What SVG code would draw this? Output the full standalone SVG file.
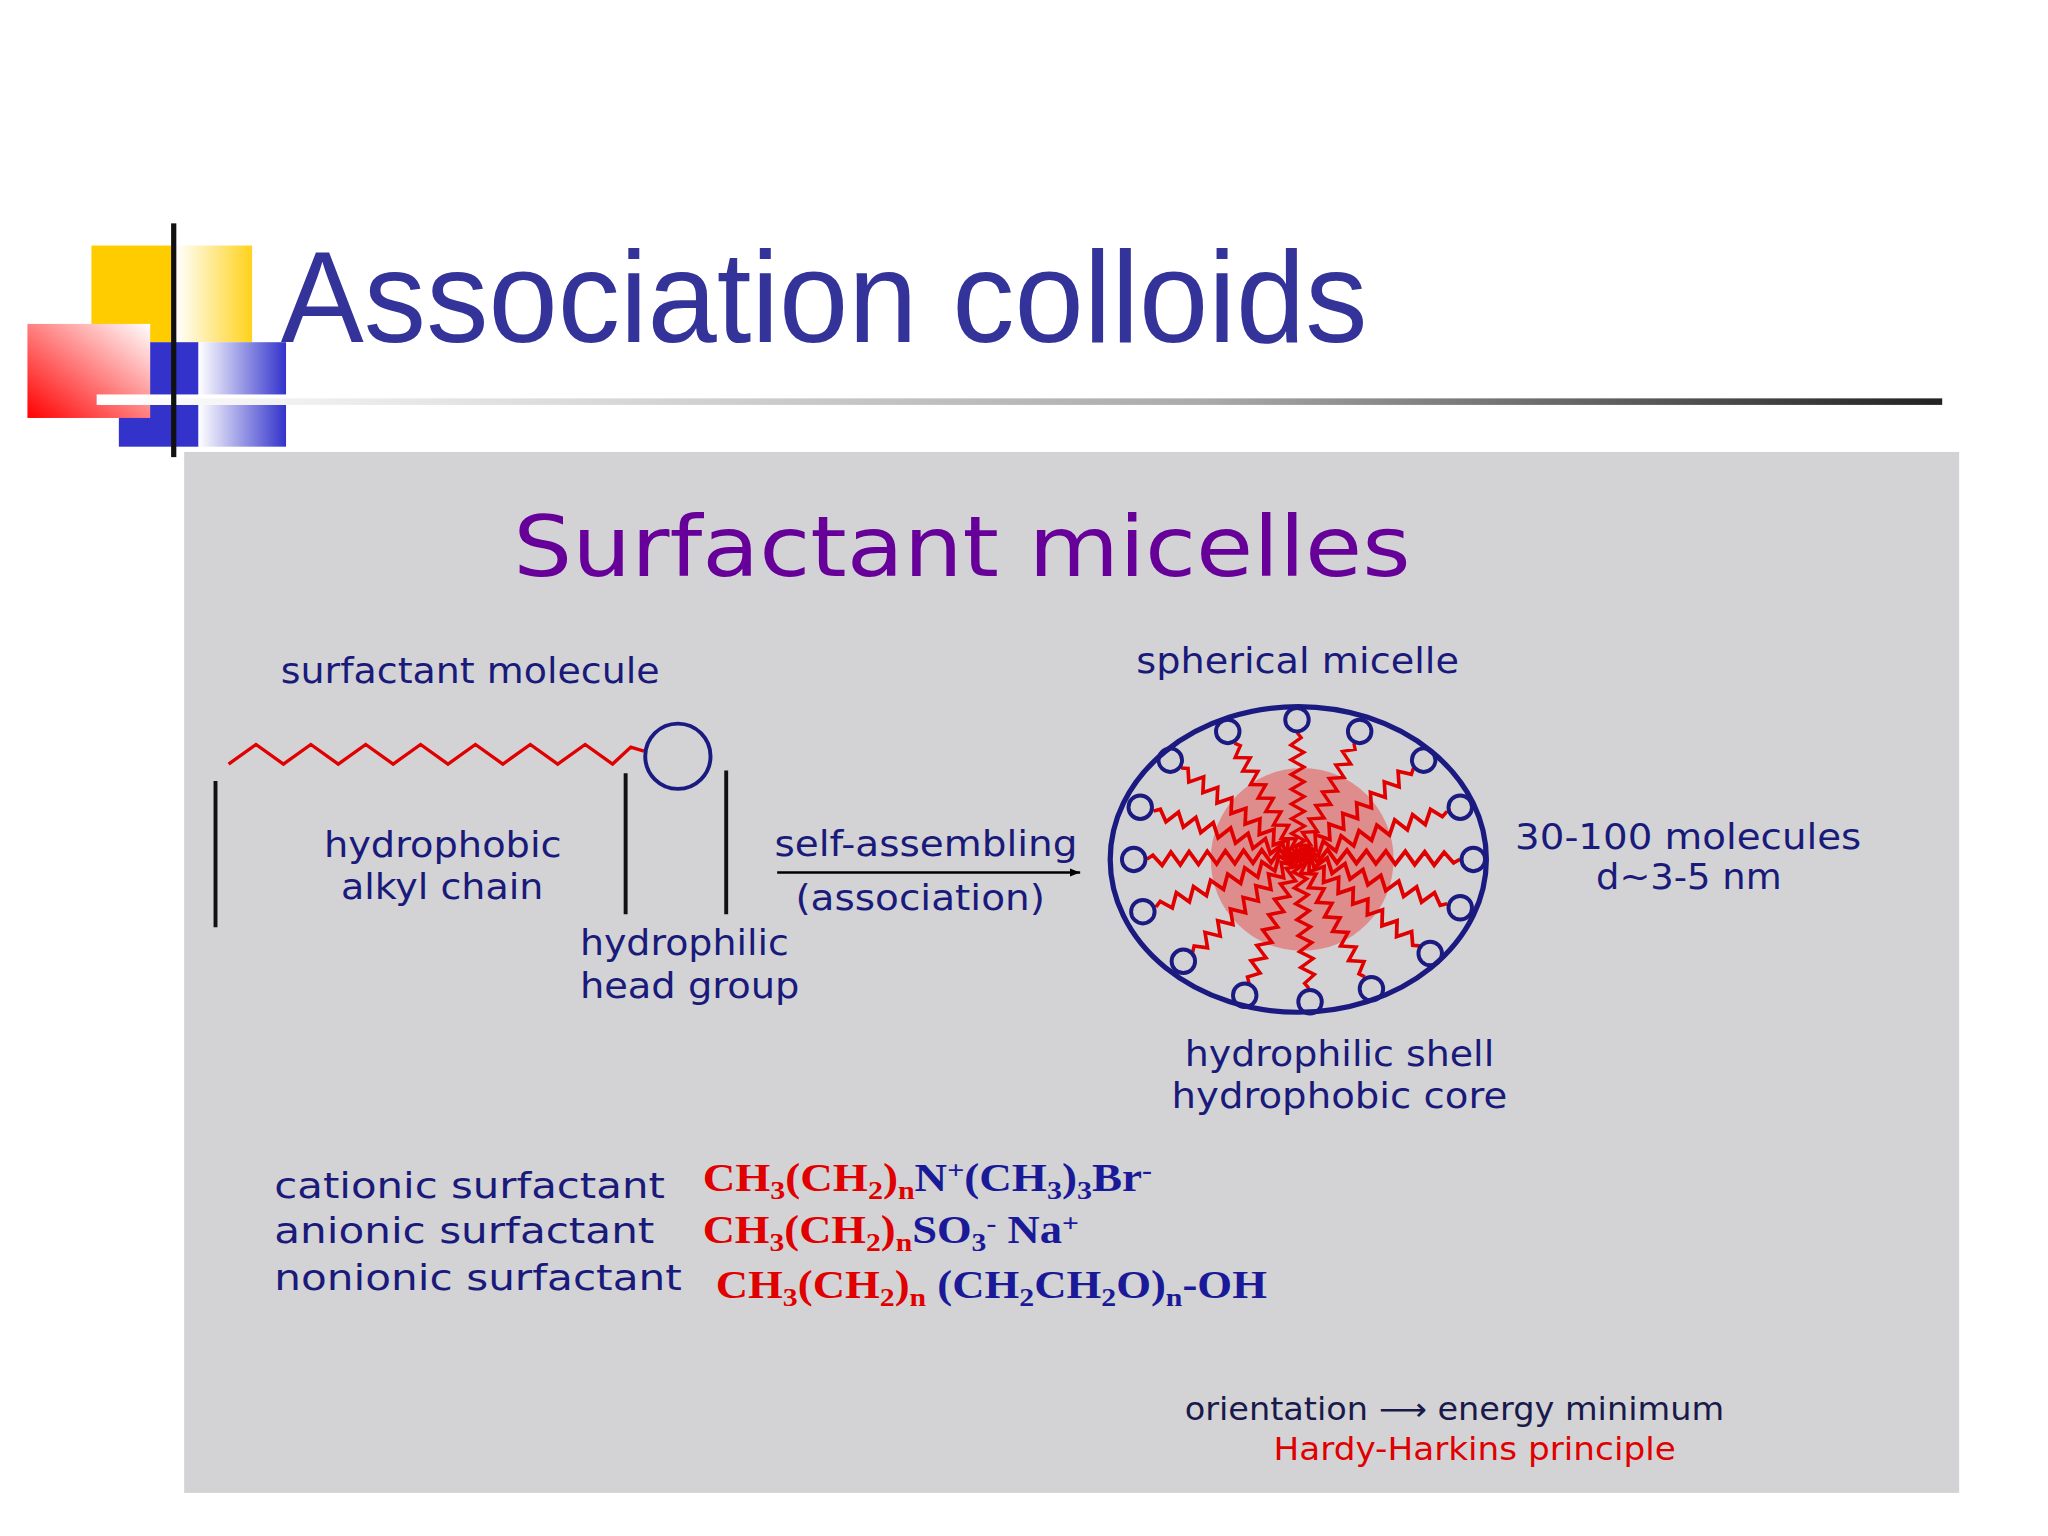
<svg xmlns="http://www.w3.org/2000/svg" xmlns:xlink="http://www.w3.org/1999/xlink" width="2048" height="1536" viewBox="0 0 2048 1536">
<defs>
<linearGradient id="gy" x1="0" x2="1" y1="0" y2="0"><stop offset="0" stop-color="#fff"/><stop offset="1" stop-color="#ffd21a"/></linearGradient>
<linearGradient id="gb" x1="0" x2="1" y1="0" y2="0"><stop offset="0" stop-color="#fff"/><stop offset="1" stop-color="#3333cc"/></linearGradient>
<linearGradient id="gr" x1="0" x2="1" y1="1" y2="0"><stop offset="0" stop-color="#ff0000"/><stop offset="1" stop-color="#fff"/></linearGradient>
<linearGradient id="gl" x1="0" x2="1" y1="0" y2="0"><stop offset="0" stop-color="#fff"/><stop offset="0.6" stop-color="#aaa"/><stop offset="1" stop-color="#222"/></linearGradient>
<marker id="ah" viewBox="0 0 10 10" refX="10" refY="5" markerWidth="8" markerHeight="8" orient="auto" markerUnits="userSpaceOnUse"><path d="M0,1 L10,5 L0,9 Z" fill="#000"/></marker>
<path id="zz" d="M0,0 L6,-5 L12,5 L18,-5 L24,5 L30,-5 L36,5 L42,-5 L48,5 L54,-5 L60,5 L66,-5 L72,5 L78,-5 L84,5 L90,-5 L96,3 L100,0"/>
<style>
.t{font-family:"DejaVu Sans",Verdana,sans-serif;fill:#1a1a7a;font-size:27px}
.f{font-family:"Liberation Serif","Times New Roman",serif;font-weight:bold;font-size:30px}
.r{fill:#e00000}.b{fill:#1a1a99}
.chain{fill:none;stroke:#e00000;stroke-width:2.6}
.head{fill:none;stroke:#1a1a80;stroke-width:3}
.vl{stroke:#111;stroke-width:3}
</style>
</defs>
<g transform="scale(1.30612)">
<rect width="1568" height="1176" fill="#fff"/>
<g id="deco">
<rect x="70" y="188" width="65" height="74" fill="#ffcc00"/>
<rect x="135" y="188" width="58" height="74" fill="url(#gy)"/>
<rect x="91" y="262" width="61" height="80" fill="#3333cc"/>
<rect x="152" y="262" width="67" height="80" fill="url(#gb)"/>
<rect x="21" y="248" width="94" height="72" fill="url(#gr)"/>
<rect x="74" y="302" width="1413" height="8" fill="#fff"/>
<rect x="76" y="305" width="1411" height="5" fill="url(#gl)"/>
<rect x="131" y="171" width="4" height="179" fill="#111"/>
</g>
<text x="215" y="262" font-family="Liberation Sans,Arial,sans-serif" font-size="100" fill="#333399" textLength="832" lengthAdjust="spacingAndGlyphs">Association colloids</text>
<rect x="141" y="346" width="1359" height="797" fill="#d3d3d6"/>
<text x="393" y="441" font-family="DejaVu Sans,Verdana,sans-serif" font-size="64" fill="#660099" textLength="687" lengthAdjust="spacingAndGlyphs">Surfactant micelles</text>

<g id="molecule">
<polyline class="chain" points="175,585 196,570 217,585 238,570 259,585 280,570 301,585 322,570 343,585 364,570 385,585 406,570 427,585 448,570 469,585 483,572 493,575"/>
<circle class="head" cx="519" cy="579" r="25"/>
<line class="vl" x1="165" y1="598" x2="165" y2="710"/>
<line class="vl" x1="479" y1="592" x2="479" y2="700"/>
<line class="vl" x1="556" y1="590" x2="556" y2="700"/>
<text class="t" x="215" y="523" textLength="290" lengthAdjust="spacingAndGlyphs">surfactant molecule</text>
<text class="t" x="248" y="656" textLength="182" lengthAdjust="spacingAndGlyphs">hydrophobic</text>
<text class="t" x="261" y="688" textLength="155" lengthAdjust="spacingAndGlyphs">alkyl chain</text>
<text class="t" x="444" y="731" textLength="160" lengthAdjust="spacingAndGlyphs">hydrophilic</text>
<text class="t" x="444" y="764" textLength="168" lengthAdjust="spacingAndGlyphs">head group</text>
</g>

<g id="connectors">
<line x1="595" y1="668" x2="827" y2="668" stroke="#000" stroke-width="2" marker-end="url(#ah)"/>
</g>
<text class="t" x="593" y="655" textLength="232" lengthAdjust="spacingAndGlyphs">self-assembling</text>
<text class="t" x="609" y="697" textLength="191" lengthAdjust="spacingAndGlyphs">(association)</text>

<g id="micelle">
<circle cx="997" cy="658" r="70" fill="#df7f7f" opacity="0.85"/>
<g class="chain">
<use xlink:href="#zz" transform="translate(994,655) rotate(-90.5) scale(0.94,1)"/>
<use xlink:href="#zz" transform="translate(994,655) rotate(-119.6) scale(0.99,1)"/>
<use xlink:href="#zz" transform="translate(994,655) rotate(-63.7) scale(0.96,1)"/>
<use xlink:href="#zz" transform="translate(994,655) rotate(-143.3) scale(1.12,1)"/>
<use xlink:href="#zz" transform="translate(994,655) rotate(-37.3) scale(1.11,1)"/>
<use xlink:href="#zz" transform="translate(994,655) rotate(-163) scale(1.16,1)"/>
<use xlink:href="#zz" transform="translate(994,655) rotate(-16.6) scale(1.19,1)"/>
<use xlink:href="#zz" transform="translate(994,655) rotate(178.6) scale(1.16,1)"/>
<use xlink:href="#zz" transform="translate(994,655) rotate(1.3) scale(1.24,1)"/>
<use xlink:href="#zz" transform="translate(994,655) rotate(160.1) scale(1.16,1)"/>
<use xlink:href="#zz" transform="translate(994,655) rotate(17.9) scale(1.2,1)"/>
<use xlink:href="#zz" transform="translate(994,655) rotate(137.4) scale(1.1,1)"/>
<use xlink:href="#zz" transform="translate(994,655) rotate(36.6) scale(1.16,1)"/>
<use xlink:href="#zz" transform="translate(994,655) rotate(111) scale(1.05,1)"/>
<use xlink:href="#zz" transform="translate(994,655) rotate(61.2) scale(1.06,1)"/>
<use xlink:href="#zz" transform="translate(994,655) rotate(85.4) scale(1.02,1)"/>
</g>
<ellipse cx="994" cy="658" rx="144" ry="117" fill="none" stroke="#1a1a80" stroke-width="4"/>
<g class="head" fill="none">
<circle cx="993" cy="551" r="9"/><circle cx="940" cy="560" r="9"/><circle cx="1041" cy="560" r="9"/>
<circle cx="896" cy="582" r="9"/><circle cx="1090" cy="582" r="9"/><circle cx="873" cy="618" r="9"/>
<circle cx="1118" cy="618" r="9"/><circle cx="868" cy="658" r="9"/><circle cx="1128" cy="658" r="9"/>
<circle cx="875" cy="698" r="9"/><circle cx="1118" cy="695" r="9"/><circle cx="906" cy="736" r="9"/>
<circle cx="1095" cy="730" r="9"/><circle cx="953" cy="762" r="9"/><circle cx="1050" cy="757" r="9"/>
<circle cx="1003" cy="767" r="9"/>
</g>
<text class="t" x="870" y="515" textLength="247" lengthAdjust="spacingAndGlyphs">spherical micelle</text>
<text class="t" x="1160" y="650" textLength="265" lengthAdjust="spacingAndGlyphs">30-100 molecules</text>
<text class="t" x="1222" y="681" textLength="142" lengthAdjust="spacingAndGlyphs">d~3-5 nm</text>
<text class="t" x="907" y="816" textLength="237" lengthAdjust="spacingAndGlyphs">hydrophilic shell</text>
<text class="t" x="897" y="848" textLength="257" lengthAdjust="spacingAndGlyphs">hydrophobic core</text>
</g>

<g id="types">
<text class="t" x="210" y="917" font-size="29" textLength="299" lengthAdjust="spacingAndGlyphs">cationic surfactant</text>
<text class="t" x="210" y="952" font-size="29" textLength="291" lengthAdjust="spacingAndGlyphs">anionic surfactant</text>
<text class="t" x="210" y="988" font-size="29" textLength="312" lengthAdjust="spacingAndGlyphs">nonionic surfactant</text>
<text class="f" x="538" y="912" textLength="344" lengthAdjust="spacingAndGlyphs"><tspan class="r">CH<tspan font-size="20" dy="6">3</tspan><tspan dy="-6">(CH</tspan><tspan font-size="20" dy="6">2</tspan><tspan dy="-6">)</tspan><tspan font-size="20" dy="6">n</tspan></tspan><tspan class="b" dy="-6">N<tspan font-size="20" dy="-9">+</tspan><tspan dy="9">(CH</tspan><tspan font-size="20" dy="6">3</tspan><tspan dy="-6">)</tspan><tspan font-size="20" dy="6">3</tspan><tspan dy="-6">Br</tspan><tspan font-size="20" dy="-9">-</tspan></tspan></text>
<text class="f" x="538" y="952" textLength="288" lengthAdjust="spacingAndGlyphs"><tspan class="r">CH<tspan font-size="20" dy="6">3</tspan><tspan dy="-6">(CH</tspan><tspan font-size="20" dy="6">2</tspan><tspan dy="-6">)</tspan><tspan font-size="20" dy="6">n</tspan></tspan><tspan class="b" dy="-6">SO<tspan font-size="20" dy="6">3</tspan><tspan font-size="20" dy="-15">-</tspan><tspan dy="9"> Na</tspan><tspan font-size="20" dy="-9">+</tspan></tspan></text>
<text class="f" x="548" y="994" textLength="422" lengthAdjust="spacingAndGlyphs"><tspan class="r">CH<tspan font-size="20" dy="6">3</tspan><tspan dy="-6">(CH</tspan><tspan font-size="20" dy="6">2</tspan><tspan dy="-6">)</tspan><tspan font-size="20" dy="6">n</tspan></tspan><tspan class="b" dy="-6"> (CH<tspan font-size="20" dy="6">2</tspan><tspan dy="-6">CH</tspan><tspan font-size="20" dy="6">2</tspan><tspan dy="-6">O)</tspan><tspan font-size="20" dy="6">n</tspan><tspan dy="-6">-OH</tspan></tspan></text>
</g>

<text x="907" y="1087" font-family="DejaVu Sans,Verdana,sans-serif" font-size="24" fill="#1a1a4a" textLength="413" lengthAdjust="spacingAndGlyphs">orientation ⟶ energy minimum</text>
<text x="975" y="1118" font-family="DejaVu Sans,Verdana,sans-serif" font-size="24" fill="#e00000" textLength="308" lengthAdjust="spacingAndGlyphs">Hardy-Harkins principle</text>
</g>
</svg>
